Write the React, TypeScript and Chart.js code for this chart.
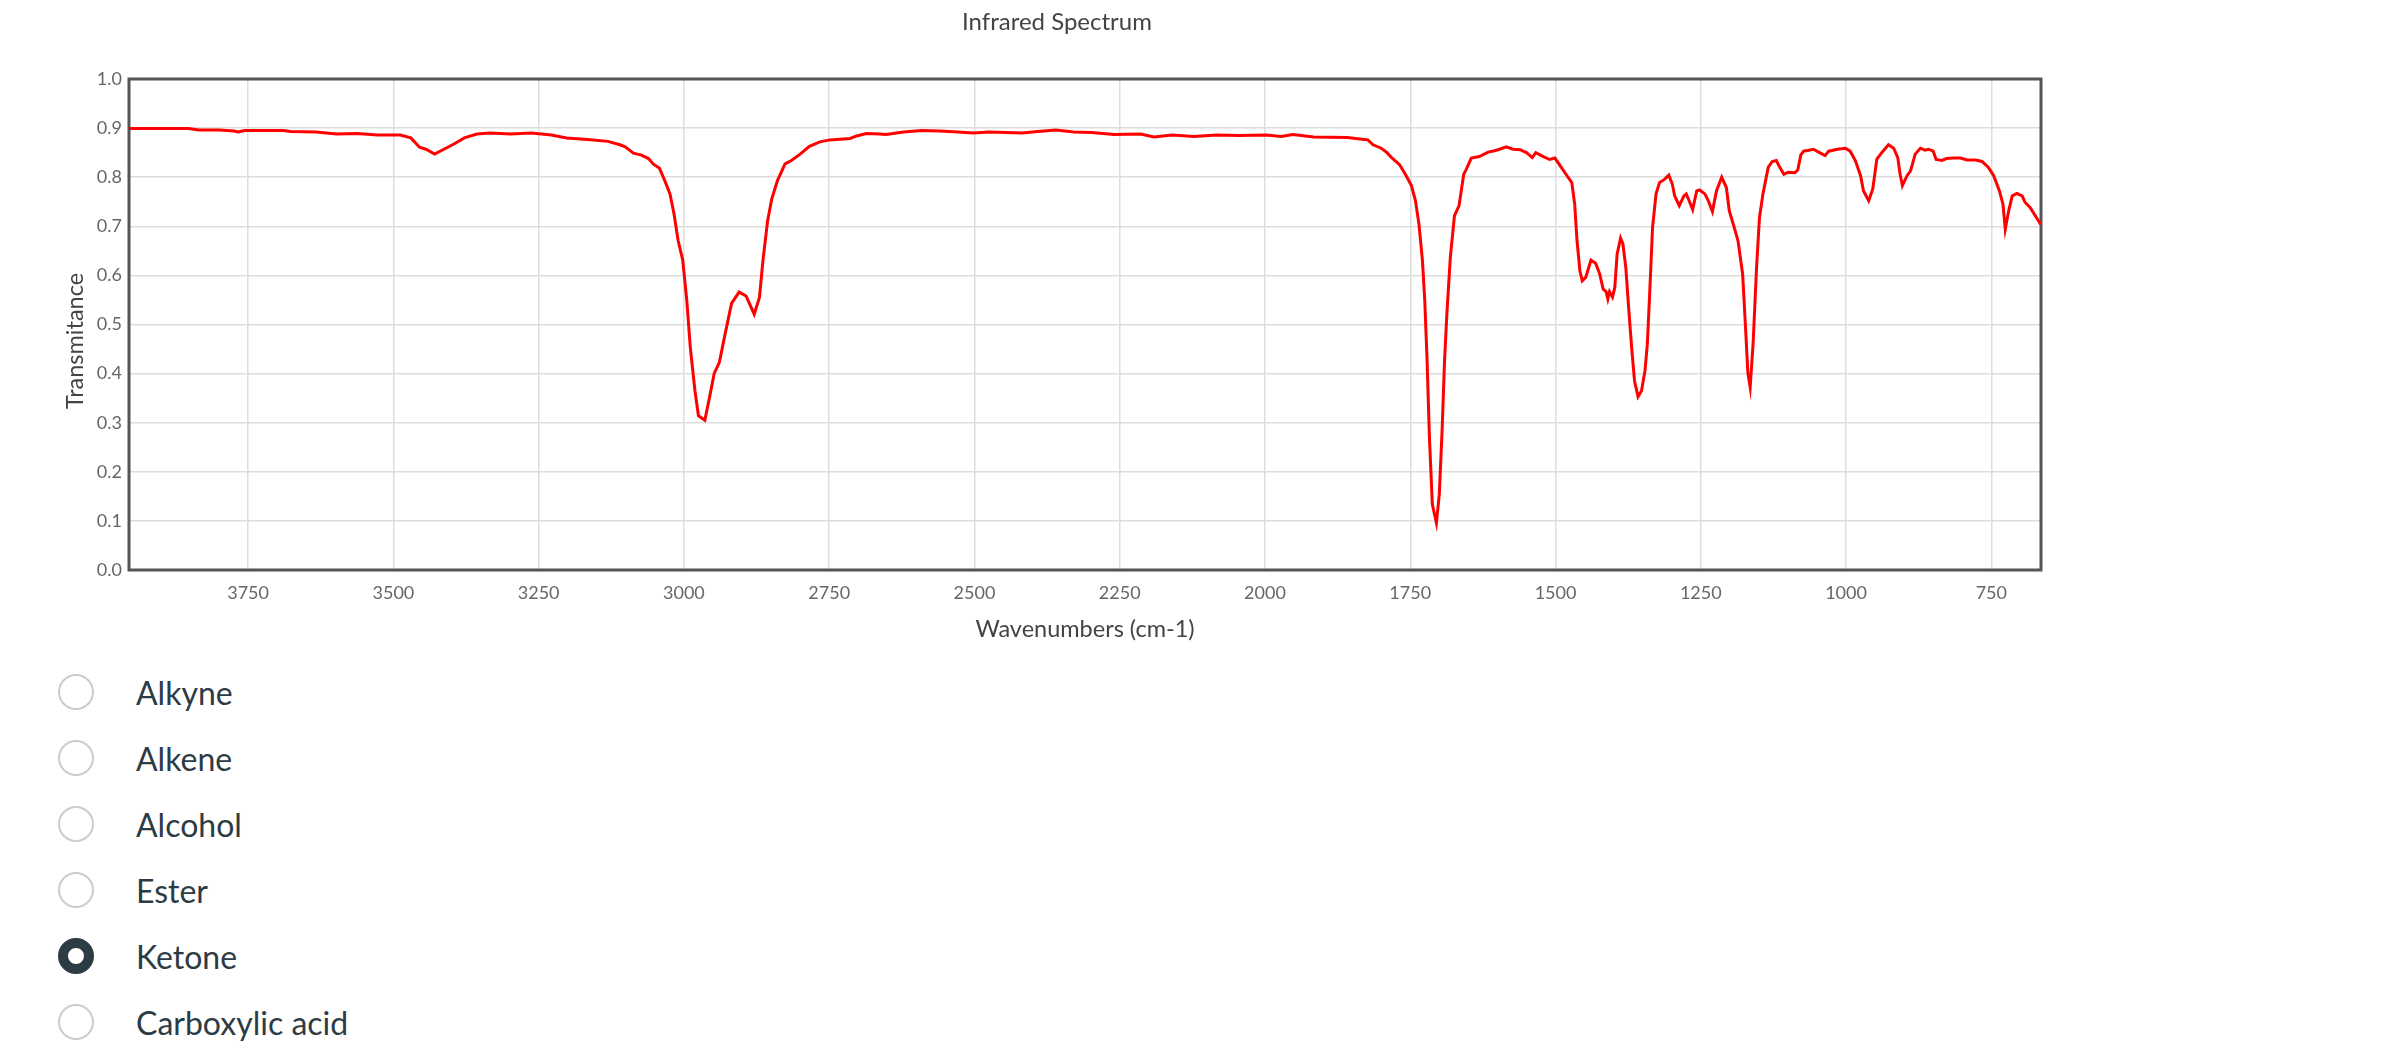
import React, { useEffect, useRef } from "react";
import { Chart, registerables } from "chart.js";

Chart.register(...registerables);

// ---- data ----
const wavenumbers: number[] = [
  3955, 3853, 3835, 3800, 3774, 3767, 3756, 3690, 3677, 3633, 3598, 3563, 3527, 3488, 3470, 3455, 3444, 3429,
  3413, 3395, 3378, 3356, 3334, 3298, 3263, 3228, 3202, 3166, 3131, 3110, 3101, 3087, 3073, 3061, 3053, 3042,
  3033, 3024, 3017, 3010, 3002, 2995, 2989, 2981, 2975, 2964, 2956, 2948, 2939, 2928, 2918, 2905, 2893, 2879,
  2870, 2864, 2856, 2849, 2839, 2826, 2815, 2800, 2784, 2766, 2749, 2714, 2703, 2686, 2663, 2652, 2622, 2591,
  2560, 2529, 2502, 2475, 2445, 2418, 2391, 2360, 2329, 2298, 2260, 2214, 2191, 2160, 2122, 2083, 2045, 1998,
  1972, 1952, 1916, 1858, 1837, 1823, 1814, 1800, 1791, 1783, 1768, 1757, 1748, 1741, 1735, 1729, 1725, 1721,
  1717, 1712, 1705, 1700, 1695, 1691, 1687, 1681, 1674, 1666, 1658, 1654, 1645, 1631, 1616, 1605, 1596, 1585,
  1573, 1561, 1550, 1540, 1534, 1521, 1510, 1501, 1493, 1482, 1472, 1467, 1463, 1458, 1454, 1448, 1439, 1431,
  1424, 1418, 1413, 1410, 1407, 1402, 1398, 1394, 1388, 1384, 1379, 1375, 1369, 1364, 1358, 1352, 1346, 1342,
  1338, 1333, 1327, 1321, 1312, 1305, 1299, 1295, 1287, 1279, 1275, 1269, 1264, 1257, 1252, 1243, 1237, 1230,
  1223, 1214, 1206, 1201, 1194, 1186, 1178, 1173, 1169, 1165, 1160, 1154, 1149, 1143, 1134, 1127, 1120, 1114,
  1107, 1100, 1088, 1083, 1078, 1073, 1064, 1056, 1044, 1036, 1030, 1015, 1001, 993, 984, 975, 970, 961, 954,
  947, 938, 927, 918, 911, 907, 903, 895, 889, 881, 872, 864, 858, 850, 845, 835, 827, 815, 803, 792, 777, 766,
  755, 746, 736, 730, 726, 720, 714, 706, 697, 692, 683, 674, 665,
];

const transmittance: number[] = [
  0.899, 0.899, 0.896, 0.896, 0.894, 0.892, 0.895, 0.895, 0.893, 0.892, 0.888, 0.889, 0.886, 0.886, 0.88, 0.861, 0.857, 0.847,
  0.857, 0.868, 0.88, 0.888, 0.89, 0.888, 0.89, 0.886, 0.88, 0.877, 0.873, 0.866, 0.862, 0.849, 0.845, 0.838, 0.827, 0.818,
  0.793, 0.766, 0.725, 0.671, 0.631, 0.548, 0.453, 0.365, 0.314, 0.305, 0.351, 0.4, 0.423, 0.487, 0.543, 0.566, 0.558, 0.521,
  0.555, 0.63, 0.711, 0.755, 0.793, 0.827, 0.834, 0.847, 0.863, 0.872, 0.876, 0.879, 0.884, 0.889, 0.888, 0.887, 0.892, 0.895,
  0.894, 0.892, 0.89, 0.892, 0.891, 0.89, 0.893, 0.896, 0.892, 0.891, 0.887, 0.888, 0.882, 0.886, 0.883, 0.886, 0.885, 0.886,
  0.883, 0.887, 0.882, 0.881, 0.878, 0.876, 0.866, 0.859, 0.851, 0.841, 0.825, 0.803, 0.783, 0.752, 0.704, 0.63, 0.548, 0.426,
  0.27, 0.134, 0.096, 0.154, 0.29, 0.426, 0.521, 0.637, 0.721, 0.742, 0.806, 0.815, 0.839, 0.842, 0.851, 0.854, 0.857, 0.862,
  0.857, 0.856, 0.85, 0.84, 0.85, 0.842, 0.836, 0.839, 0.825, 0.806, 0.789, 0.745, 0.671, 0.609, 0.589, 0.596, 0.631, 0.625,
  0.603, 0.572, 0.567, 0.552, 0.567, 0.556, 0.575, 0.643, 0.676, 0.664, 0.616, 0.548, 0.453, 0.385, 0.353, 0.365, 0.406, 0.46,
  0.562, 0.698, 0.766, 0.789, 0.796, 0.804, 0.786, 0.762, 0.742, 0.762, 0.766, 0.749, 0.734, 0.772, 0.774, 0.766, 0.752, 0.73,
  0.772, 0.8, 0.779, 0.732, 0.704, 0.671, 0.603, 0.494, 0.402, 0.372, 0.46, 0.616, 0.718, 0.766, 0.82, 0.832, 0.834, 0.82,
  0.806, 0.81, 0.809, 0.815, 0.845, 0.853, 0.855, 0.857, 0.849, 0.844, 0.853, 0.857, 0.859, 0.853, 0.834, 0.803, 0.772, 0.752, 0.776,
  0.837, 0.851, 0.866, 0.859, 0.84, 0.806, 0.783, 0.803, 0.813, 0.847, 0.859, 0.855, 0.857, 0.853, 0.836, 0.834, 0.838, 0.839, 0.839, 0.835, 0.835, 0.832,
  0.82, 0.803, 0.772, 0.745, 0.694, 0.732, 0.762, 0.767, 0.762, 0.749, 0.738, 0.721, 0.704,
];

const xTickValues: number[] = [3750, 3500, 3250, 3000, 2750, 2500, 2250, 2000, 1750, 1500, 1250, 1000, 750];
const yTickValues: number[] = [0, 0.1, 0.2, 0.3, 0.4, 0.5, 0.6, 0.7, 0.8, 0.9, 1.0];
const xRange: number[] = [664.5, 3955];

const chartTitle = "Infrared Spectrum";
const xTitle = "Wavenumbers (cm-1)";
const yTitle = "Transmitance";

const answerChoices: string[] = ["Alkyne", "Alkene", "Alcohol", "Ester", "Ketone", "Carboxylic acid"];
const selectedChoice = "Ketone";

const FONT = "Lato, 'Open Sans', sans-serif";

const framePlugin = {
  id: "frame",
  beforeDatasetsDraw(chart: any) {
    const { ctx, chartArea } = chart;
    ctx.save();
    ctx.strokeStyle = "#555555";
    ctx.lineWidth = 3;
    ctx.strokeRect(chartArea.left, chartArea.top, chartArea.right - chartArea.left, chartArea.bottom - chartArea.top);
    ctx.restore();
  },
  afterDraw(chart: any) {
    const { ctx } = chart;
    ctx.save();
    ctx.fillStyle = "#444444";
    ctx.textAlign = "center";
    ctx.textBaseline = "middle";
    // chart title
    ctx.font = `24px ${FONT}`;
    ctx.fillText(chartTitle, 1049, 14);
    // y axis title
    ctx.translate(67, 333);
    ctx.rotate(-Math.PI / 2);
    ctx.font = `23.5px ${FONT}`;
    ctx.fillText(yTitle, 0, 0);
    ctx.restore();
  },
};

function SpectrumChart() {
  const ref = useRef<HTMLCanvasElement | null>(null);
  useEffect(() => {
    if (!ref.current) return;
    const points = wavenumbers.map((w, i) => ({ x: w, y: transmittance[i] }));
    const chart = new Chart(ref.current, {
      type: "line",
      data: {
        datasets: [
          {
            data: points,
            borderColor: "#ff0000",
            borderWidth: 3,
            pointRadius: 0,
            tension: 0,
            fill: false,
          },
        ],
      },
      options: {
        responsive: false,
        animation: false,
        devicePixelRatio: 1,
        parsing: false as any,
        layout: { padding: { left: 0, right: 67, top: 71, bottom: 0 } },
        plugins: {
          legend: { display: false },
          tooltip: { enabled: false },
          title: { display: false },
        },
        scales: {
          x: {
            type: "linear",
            reverse: true,
            min: xRange[0],
            max: xRange[1],
            afterBuildTicks: (axis: any) => {
              axis.ticks = xTickValues.map((v) => ({ value: v }));
            },
            afterFit: (axis: any) => {
              axis.height = 78;
            },
            grid: { color: "#dddddd", lineWidth: 1.5, drawTicks: false },
            border: { display: false },
            ticks: {
              color: "#666666",
              font: { family: FONT, size: 18 },
              padding: 12,
              maxRotation: 0,
              autoSkip: false,
              callback: (v: any) => String(v),
            },
            title: {
              display: true,
              text: xTitle,
              color: "#444444",
              font: { family: FONT, size: 23.5 },
              padding: { top: 0, bottom: 4 },
            },
          },
          y: {
            type: "linear",
            min: 0,
            max: 1,
            afterBuildTicks: (axis: any) => {
              axis.ticks = yTickValues.map((v) => ({ value: v }));
            },
            afterFit: (axis: any) => {
              axis.width = 121;
            },
            grid: { color: "#dddddd", lineWidth: 1.5, drawTicks: false },
            border: { display: false },
            ticks: {
              color: "#666666",
              font: { family: FONT, size: 18 },
              padding: 7,
              autoSkip: false,
              callback: (v: any) => Number(v).toFixed(1),
            },
          },
        },
      },
      plugins: [framePlugin],
    });
    return () => chart.destroy();
  }, []);
  return <canvas ref={ref} width={2100} height={640} style={{ display: "block", width: 2100, height: 640 }} />;
}

function RadioRow({ label, checked }: { label: string; checked: boolean }) {
  const circle: React.CSSProperties = checked
    ? {
        width: 36,
        height: 36,
        boxSizing: "border-box",
        borderRadius: "50%",
        border: "10px solid #2d3b45",
        background: "#ffffff",
        flex: "none",
      }
    : {
        width: 36,
        height: 36,
        boxSizing: "border-box",
        borderRadius: "50%",
        border: "2px solid #c7cdd1",
        background: "#ffffff",
        flex: "none",
      };
  return (
    <div style={{ display: "flex", alignItems: "center", height: 66 }}>
      <div style={{ marginLeft: 50, ...circle }} />
      <span style={{ marginLeft: 42, fontFamily: FONT, fontSize: 32, color: "#2d3b45" }}>{label}</span>
    </div>
  );
}

export default function App() {
  return (
    <div style={{ width: 2100, background: "#ffffff" }}>
      <SpectrumChart />
      <div style={{ marginTop: 11 }}>
        {answerChoices.map((c) => (
          <RadioRow key={c} label={c} checked={c === selectedChoice} />
        ))}
      </div>
    </div>
  );
}
